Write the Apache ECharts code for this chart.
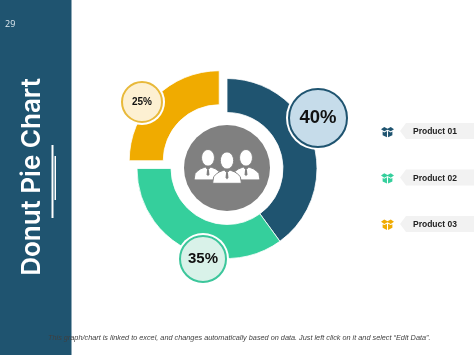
<!DOCTYPE html>
<html>
<head>
<meta charset="utf-8">
<style>
  html, body { margin: 0; padding: 0; background: #fff; }
  #chart { width: 474px; height: 355px; }
</style>
<script src="https://cdn.jsdelivr.net/npm/echarts@6/dist/echarts.min.js"></script>
</head>
<body>
<div id="chart"></div>
<script>
const categories = ["Product 01", "Product 02", "Product 03"];
const shares = [40, 35, 25];
const colors = ["#1f5470", "#35cf9c", "#f0ab00"];
const bubbleFills = ["#c6dcea", "#d9f2e9", "#fdf0d2"];
const bubbleRings = ["#1f5470", "#3cc69b", "#e8b93a"];
const bubbleSpots = [[318, 118, 30, 18.5], [203, 259, 24, 15], [142, 102, 21, 10]];
const legendRows = [131, 177.5, 224];

const boxIcon = "path://M0 5L6 1L12 4L18 1L24 5L18 9L12 6L6 9ZM3 9.5L6 11L11 8.5V20L3 16ZM21 9.5L18 11L13 8.5V20L21 16Z";
const shoulders = [[-15, 13], [-14, 7], [-11, 4], [-8, 2], [-3, 0], [0, 3], [3, 0], [8, 2], [11, 4], [14, 7], [15, 13], [14, 14], [-14, 14]];
const tie = [[-1, 3], [1, 3], [1.5, 8], [0, 10], [-1.5, 8]];

function bubble(index) {
  const [x, y, r, size] = bubbleSpots[index];
  return {
    type: "group",
    x: x,
    y: y,
    z: 10,
    silent: true,
    children: [
      { type: "circle", z: 10, shape: { r: r + 2 }, style: { fill: "#fff" } },
      { type: "circle", z: 11, shape: { r: r - 1 }, style: { fill: bubbleFills[index], stroke: bubbleRings[index], lineWidth: 2 } },
      {
        type: "text",
        z: 12,
        style: {
          text: shares[index] + "%",
          x: 0,
          y: 0,
          align: "center",
          verticalAlign: "middle",
          fill: "#111",
          font: "bold " + size + "px 'Liberation Sans'",
        },
      },
    ],
  };
}

function person(x, y, scale) {
  return {
    type: "group",
    x: x,
    y: y,
    scaleX: scale,
    scaleY: scale,
    z: 6,
    children: [
      { type: "ellipse", z: 6, shape: { cx: 0, cy: -10, rx: 7, ry: 9 }, style: { fill: "#fff", stroke: "#808080", lineWidth: 1 } },
      { type: "polygon", z: 6, shape: { points: shoulders }, style: { fill: "#fff", stroke: "#808080", lineWidth: 1 } },
      { type: "polygon", z: 7, shape: { points: tie }, style: { fill: "#808080" } },
    ],
  };
}

// grey pointed tag behind each legend label
function legendTag(y) {
  return {
    type: "polygon",
    z: 1,
    silent: true,
    shape: { points: [[400, y], [406, y - 8], [474, y - 8], [474, y + 8], [406, y + 8]] },
    style: { fill: "#f2f2f2" },
  };
}

const chart = echarts.init(document.getElementById("chart"), null, { renderer: "canvas" });

chart.setOption({
  animation: false,
  legend: {
    orient: "vertical",
    left: 381,
    top: 127,
    padding: 0,
    itemWidth: 13,
    itemHeight: 12,
    itemGap: 36,
    selectedMode: false,
    itemStyle: { borderWidth: 0 },
    textStyle: {
      fontFamily: "Liberation Sans",
      fontSize: 8.5,
      fontWeight: "bold",
      color: "#222",
      padding: [0, 0, 0, 14],
    },
    data: categories.map((name) => ({ name: name, icon: boxIcon })),
  },
  series: [
    {
      type: "pie",
      center: [227, 168.5],
      radius: [56, 90],
      startAngle: 90,
      clockwise: true,
      silent: true,
      selectedMode: "single",
      selectedOffset: 11,
      label: { show: false },
      labelLine: { show: false },
      itemStyle: { borderColor: "#fff", borderWidth: 0.8 },
      data: categories.map((name, i) => ({
        name: name,
        value: shares[i],
        selected: i === 2,
        itemStyle: { color: colors[i] },
      })),
    },
  ],
  graphic: [
    { type: "rect", z: 0, silent: true, shape: { x: 0, y: 0, width: 71.5, height: 355 }, style: { fill: "#1f5470" } },
    {
      type: "text",
      z: 3,
      silent: true,
      x: 32,
      y: 177,
      rotation: Math.PI / 2,
      style: {
        text: "Donut Pie Chart",
        align: "center",
        verticalAlign: "middle",
        fill: "#fff",
        font: "600 26px Inter",
      },
    },
    { type: "text", z: 3, silent: true, style: { text: "29", x: 5, y: 20, fill: "#dfe8ee", font: "9px 'Open Sans'" } },
    { type: "rect", z: 3, silent: true, shape: { x: 51.5, y: 145, width: 2, height: 73 }, style: { fill: "#fff" } },
    { type: "rect", z: 3, silent: true, shape: { x: 54.5, y: 156, width: 1.5, height: 44 }, style: { fill: "#fff" } },
    { type: "circle", z: 5, silent: true, shape: { cx: 227, cy: 168, r: 43 }, style: { fill: "#808080" } },
    { type: "group", silent: true, z: 6, children: [person(208, 167, 0.92), person(246, 167, 0.92), person(227, 170, 0.95)] },
    bubble(0),
    bubble(1),
    bubble(2),
    legendTag(legendRows[0]),
    legendTag(legendRows[1]),
    legendTag(legendRows[2]),
    {
      type: "text",
      z: 20,
      silent: true,
      style: {
        text: "This graph/chart is linked to excel, and changes automatically based on data. Just left click on it and select \u201cEdit Data\u201d.",
        x: 48,
        y: 334,
        fill: "#3f3f3f",
        font: "italic 7.3px 'Liberation Sans'",
      },
    },
  ],
});
</script>
</body>
</html>
